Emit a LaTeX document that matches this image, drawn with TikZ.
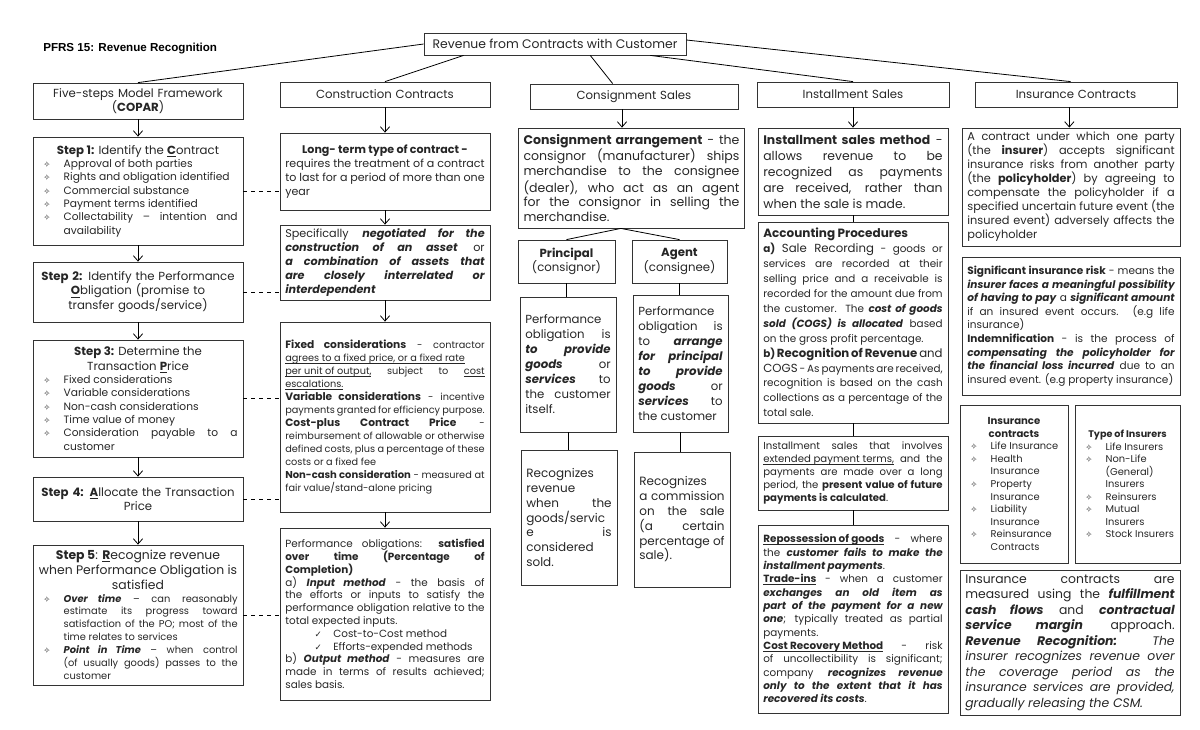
\documentclass[tikz,border=0pt]{standalone}
\usepackage{fontspec}
\setmainfont{Poppins}
\newfontfamily\titlefont{Liberation Sans}
\newfontfamily\symfont{DejaVu Sans}
\usetikzlibrary{arrows.meta, positioning, calc}

\hyphenpenalty=10000
\exhyphenpenalty=10000
\tolerance=9000
\emergencystretch=1em

\newcommand{\fs}[2]{\fontsize{#1}{#2}\selectfont}
\newcommand{\bi}[1]{\textbf{\textit{#1}}}
\newcommand{\ul}[1]{\underline{\smash{#1}}}
\newcommand{\itm}{\par\noindent\hangindent=19pt\hangafter=1\hspace*{4pt}\makebox[15pt][l]{\symfont\fs{6}{6}✧}}
\newcommand{\chk}{\par\noindent\hspace*{22pt}\makebox[14pt][l]{\symfont\fs{6.5}{6.5}✓}}

\begin{document}
\begin{tikzpicture}[x=0.75pt, y=-0.75pt,
    box/.style={draw=black!80, line width=0.6pt, inner xsep=4pt, inner ysep=2pt, align=justify, text=black!85},
    head/.style={box, align=center, font=\fs{8.8}{11}},
    arrow/.style={-{Straight Barb[length=4pt,width=7pt]}, line width=0.6pt},
    link/.style={line width=0.6pt},
    tie/.style={dashed, line width=0.6pt}]
    \useasboundingbox (0,0) rectangle (1200,729);

    % Title and root
    \node[anchor=west, inner sep=0pt, font=\titlefont\bfseries\fs{8.7}{11}] (title) at (43,49) {PFRS 15: Revenue Recognition};
    \node[draw=black!80, line width=0.6pt, minimum width=196.5pt, minimum height=16.5pt, inner sep=2pt, font=\fs{9.3}{11}, text=black!85] (root) at (555,44) {Revenue from Contracts with Customer};

    % Topics
    \node[head, text width=149.5pt, minimum height=27pt] (five) at (138,101) {Five-steps Model Framework\\(\textbf{COPAR})};
    \node[head, text width=149.5pt, minimum height=18.75pt] (cons) at (385,94.5) {Construction Contracts};
    \node[head, text width=148pt, minimum height=18.75pt] (consig) at (634,96.5) {Consignment Sales};
    \node[head, text width=136pt, minimum height=18.75pt] (inst) at (853,94.5) {Installment Sales};
    \node[head, text width=143.5pt, minimum height=18.75pt] (ins) at (1076,94.5) {Insurance Contracts};

    \draw[link] (root.west) -- (five.north);
    \draw[link] ([xshift=30pt]root.south west) -- (cons.north);
    \draw[link] ([xshift=125pt]root.south west) -- ([xshift=-16pt]consig.north);
    \draw[link] ([xshift=170pt]root.south west) -- (inst.north);
    \draw[link] ([yshift=3pt]root.east) -- ([xshift=-4pt]ins.north);

    % Five steps (COPAR)
    \node[box, text width=149.5pt, minimum height=81pt, font=\fs{8}{10}] (s1) at (138,191) {{\centering\fs{8.8}{10.5}\textbf{Step 1:} Identify the \textbf{\underline{C}}ontract\par}%
      \itm Approval of both parties
      \itm Rights and obligation identified
      \itm Commercial substance
      \itm Payment terms identified
      \itm Collectability -- intention and availability\par};
    \node[box, align=center, text width=149.5pt, minimum height=45pt, font=\fs{8.8}{10.8}] (s2) at (138,292) {\textbf{Step 2:} Identify the Performance \textbf{\underline{O}}bligation (promise to transfer goods/service)};
    \node[box, text width=149.5pt, minimum height=87.75pt, font=\fs{8}{10}] (s3) at (138,398.5) {{\centering\fs{8.8}{10.8}\textbf{Step 3:} Determine the\\Transaction \textbf{\underline{P}}rice\par}%
      \itm Fixed considerations
      \itm Variable considerations
      \itm Non-cash considerations
      \itm Time value of money
      \itm Consideration payable to a customer\par};
    \node[box, align=center, text width=149.5pt, minimum height=33pt, font=\fs{8.8}{10.8}] (s4) at (138,499) {\textbf{Step 4: \underline{A}}llocate the Transaction\\Price};
    \node[box, text width=149.5pt, minimum height=105pt, font=\fs{7.4}{9.7}] (s5) at (138,615) {{\centering\fs{9.3}{11}\textbf{Step 5}: \textbf{\underline{R}}ecognize revenue when Performance Obligation is satisfied\par}%
      \itm \bi{Over time} -- can reasonably estimate its progress toward satisfaction of the PO; most of the time relates to services
      \itm \bi{Point in Time} -- when control (of usually goods) passes to the customer\par};

    \draw[arrow] (five) -- (s1);
    \draw[arrow] (s1) -- (s2);
    \draw[arrow] (s2) -- (s3);
    \draw[arrow] (s3) -- (s4);
    \draw[arrow] (s4) -- (s5);

    % Construction contracts
    \node[box, text width=149.5pt, minimum height=57.75pt, font=\fs{8.3}{10.5}] (c1) at (385,171.5) {{\centering\fs{8.3}{10.5}\textbf{Long- term type of contract~-}\par}requires the treatment of a contract to last for a period of more than one year};
    \node[box, text width=149.5pt, minimum height=56.25pt, font=\fs{8.4}{10.5}] (c2) at (385,262.5) {Specifically \bi{negotiated for the construction of an asset} or \bi{a combination of assets that are closely interrelated or interdependent}};
    \node[box, text width=149.5pt, minimum height=142.5pt, font=\fs{7.3}{9.7}] (c3) at (385,417) {\textbf{\fs{8}{9.7}Fixed considerations}~- contractor \ul{agrees to a fixed price, or a fixed rate} \ul{per unit of output,} subject to \ul{cost} \ul{escalations.}\par
      \textbf{\fs{8}{9.7}Variable considerations}~- incentive payments granted for efficiency purpose.\par
      \textbf{\fs{8}{9.7}Cost-plus Contract Price}~- reimbursement of allowable or otherwise defined costs, plus a percentage of these costs or a fixed fee\par
      \textbf{\fs{7.5}{9.7}Non-cash consideration}~- measured at fair value/stand-alone pricing};
    \node[box, text width=149.5pt, minimum height=129pt, font=\fs{7.8}{9.6}] (c4) at (385,614) {Performance obligations: \textbf{satisfied over time (Percentage of Completion)}\par
      a) \bi{Input method}~- the basis of the efforts or inputs to satisfy the performance obligation relative to the total expected inputs.
      \chk Cost-to-Cost method
      \chk Efforts-expended methods\par
      b) \bi{Output method}~- measures are made in terms of results achieved; sales basis.};

    \draw[arrow] (cons) -- (c1);
    \draw[arrow] (c1) -- (c2);
    \draw[arrow] (c2) -- (c3);
    \draw[arrow] (c3) -- (c4);

    % Links between the steps and construction contracts
    \draw[tie] (s1.east) -- (s1.east -| c1.west);
    \draw[tie] (s2.east) -- (s2.east -| c2.west);
    \draw[tie] (s3.east) -- (s3.east -| c3.west);
    \draw[tie] (s4.east) -- (s4.east -| c3.west);
    \draw[tie] (s5.east) -- (s5.east -| c4.west);

    % Consignment sales
    \node[box, text width=162pt, minimum height=75pt, font=\fs{9.4}{11}] (arr) at (631.5,178) {\textbf{Consignment arrangement}~- the consignor (manufacturer) ships merchandise to the consignee (dealer), who act as an agent for the consignor in selling the merchandise.};
    \node[box, align=center, text width=64.75pt, minimum height=32.25pt, font=\fs{8.8}{11}] (prin) at (566.5,261.5) {\textbf{Principal}\\(consignor)};
    \node[box, align=center, text width=63.25pt, minimum height=32.25pt, font=\fs{8.8}{11}] (agent) at (679.5,261.5) {\textbf{Agent}\\(consignee)};
    \node[box, text width=64pt, minimum height=101.25pt, inner ysep=1pt, font=\fs{8.8}{11.25}] (prinpo) at (568,364.5) {Performance obligation is \bi{to provide goods} or \bi{services} to the customer itself.};
    \node[box, text width=63.25pt, minimum height=102.75pt, inner ysep=1pt, font=\fs{8.8}{11.25}] (agentpo) at (680.5,363.5) {Performance obligation is to \bi{arrange for principal to provide goods} or \bi{services} to the customer};
    \node[box, text width=64pt, minimum height=101.25pt, font=\fs{9}{11.1}] (prinrec) at (569,517.5) {Recognizes revenue when the goods/servic\linebreak e is considered sold.};
    \node[box, text width=64pt, minimum height=101.25pt, font=\fs{9}{11.1}] (agentrec) at (682,519.5) {Recognizes\linebreak a commission on the sale (a certain percentage of sale).};

    \draw[arrow] ([xshift=-9pt]consig.south) -- ([xshift=-9pt]consig.south |- arr.north);
    \draw[link] ([xshift=-8pt]arr.south) -- (prin.north);
    \draw[link] ([xshift=-8pt]arr.south) -- (agent.north);
    \draw[link] (prin.south) -- (prin.south |- prinpo.north);
    \draw[link] (agent.south) -- (agent.south |- agentpo.north);
    \draw[link] (prinpo.south) -- (prinpo.south |- prinrec.north);
    \draw[link] (agentpo.south) -- (agentpo.south |- agentrec.north);

    % Installment sales
    \node[box, text width=134.5pt, minimum height=65.25pt, font=\fs{9.3}{12}] (i1) at (853,171.5) {\textbf{Installment sales method}~- allows revenue to be recognized as payments are received, rather than when the sale is made.};
    \node[box, text width=134.5pt, minimum height=150.75pt, font=\fs{7.8}{11.2}] (i2) at (853,322.5) {\textbf{\fs{9}{11.2}Accounting Procedures}\par
      \textbf{a)} {\fs{8.8}{11.2}Sale Recording}~- goods or services are recorded at their selling price and a receivable is recorded for the amount due from the customer. The \bi{cost of goods sold (COGS) is allocated} based on the gross profit percentage.\par
      \textbf{b) {\fs{8.8}{11.2}Recognition of Revenue}} {\fs{8.8}{11.2}and COGS}~- As payments are received, recognition is based on the cash collections as a percentage of the total sale.};
    \node[box, text width=134.5pt, minimum height=55.5pt, font=\fs{7.6}{9.8}] (i3) at (853,473) {Installment sales that involves \ul{extended payment terms,} and the payments are made over a long period, the \textbf{present value of future payments is calculated}.};
    \node[box, text width=134.5pt, minimum height=141pt, font=\fs{7.8}{10}] (i4) at (853,619) {\textbf{\ul{Repossession of goods}}~- where the \bi{customer fails to make the installment payments}.\par
      \textbf{\ul{Trade-ins}}~- when a customer \bi{exchanges an old item as part of the payment for a new one}; typically treated as partial payments.\par
      \textbf{\ul{Cost Recovery Method}}~- risk of uncollectibility is significant; company \bi{recognizes revenue only to the extent that it has recovered its costs}.};

    \draw[arrow] (inst.south) -- (inst.south |- i1.north);
    \draw[link] (i1) -- (i2);
    \draw[link] (i2) -- (i3);
    \draw[link] (i3) -- (i4);

    % Insurance contracts
    \node[box, text width=155.5pt, minimum height=88.5pt, font=\fs{8.5}{10.5}] (n1) at (1071,187) {A contract under which one party (the \textbf{insurer}) accepts significant insurance risks from another party (the \textbf{policyholder}) by agreeing to compensate the policyholder if a specified uncertain future event (the insured event) adversely affects the policyholder};
    \node[box, text width=155.5pt, minimum height=103.5pt, font=\fs{7.9}{10.2}] (n2) at (1071,326) {\textbf{Significant insurance risk}~- means the \bi{insurer faces a meaningful possibility of having to pay} a \bi{significant amount} if an insured event occurs. (e.g life insurance)\par
      \textbf{Indemnification}~- is the process of \bi{compensating the policyholder for the financial loss incurred} due to an insured event. (e.g property insurance)};
    \node[box, text width=73pt, minimum height=118.5pt, font=\fs{7.4}{9.4}] (n3a) at (1014,484) {{\centering\fs{7.6}{9.4}\textbf{Insurance contracts}\par}%
      \itm Life Insurance
      \itm Health Insurance
      \itm Property Insurance
      \itm Liability Insurance
      \itm Reinsurance Contracts\par};
    \node[box, text width=70.75pt, minimum height=118.5pt, font=\fs{7.4}{9.4}] (n3b) at (1127.5,484) {{\centering\fs{7.2}{9.4}\textbf{Type of Insurers}\par}%
      \itm Life Insurers
      \itm Non-Life (General) Insurers
      \itm Reinsurers
      \itm Mutual Insurers
      \itm Stock Insurers\par};
    \node[box, text width=157pt, minimum height=108.75pt, font=\fs{9.3}{11.6}] (n4) at (1070,642.5) {Insurance contracts are measured using the \bi{fulfillment cash flows} and \bi{contractual service margin} approach. \bi{Revenue Recognition:} \textit{The insurer recognizes revenue over the coverage period as the insurance services are provided, gradually releasing the CSM.}};

    \draw[arrow] ([xshift=-5pt]ins.south) -- ([xshift=-5pt]ins.south |- n1.north);
\end{tikzpicture}
\end{document}
